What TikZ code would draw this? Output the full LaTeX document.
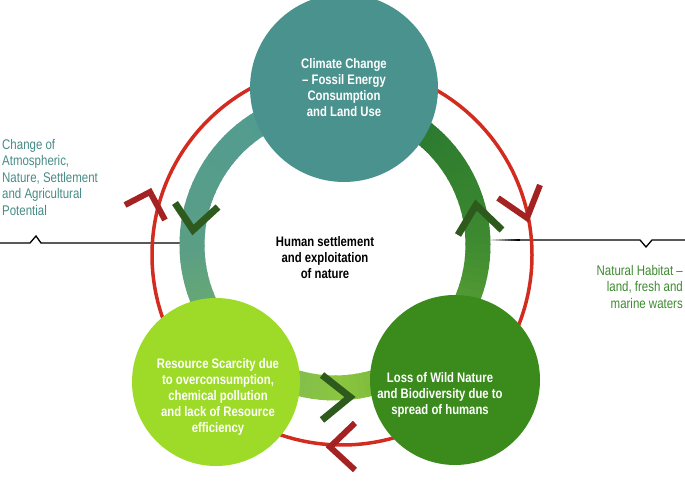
\documentclass[tikz,border=0pt]{standalone}
\usepackage{fontspec}
\setmainfont{Liberation Sans}[FakeStretch=0.82]
\begin{document}
\begin{tikzpicture}[x=1pt,y=1pt,
  bub/.style={circle,inner sep=0pt,text=white,font=\bfseries\fontsize{13.8}{16}\selectfont,align=center},
  redchev/.style={draw=chevr,line width=6pt,line cap=butt,line join=miter},
  grnchev/.style={draw=chevg,line width=7pt,line cap=butt,line join=miter},
  side/.style={font=\fontsize{14}{16.5}\selectfont}]
\useasboundingbox (0,0) rectangle (685,481);
\definecolor{teal1}{HTML}{4E9A94}
\definecolor{tealg}{HTML}{5A9E86}
\definecolor{grn1}{HTML}{1F6E2E}
\definecolor{grn2}{HTML}{3D8A30}
\definecolor{lossg}{HTML}{3A8A1C}
\definecolor{lime1}{HTML}{8CC63F}
\definecolor{redc}{HTML}{D22C20}
\definecolor{chevr}{HTML}{A52222}
\definecolor{chevg}{HTML}{2E5A1E}
% lines
\draw[line width=1.3pt] (0,238) -- (30,238) -- (36,245) -- (41,238) -- (180,238);
\foreach \i in {0,...,9}{\pgfmathsetmacro{\p}{100-10*\i}
  \draw[line width=1.3pt,black!\p] (180+2*\i,238) -- (182+2*\i,238);}
\foreach \i in {0,...,9}{\pgfmathsetmacro{\p}{10*\i+10}
  \draw[line width=1.3pt,black!\p] (490+3*\i,241) -- (493+3*\i,241);}
\draw[line width=1.3pt] (520,241) -- (640,241) -- (646,234) -- (652,241) -- (685,241);
% red circle
\draw[redc,line width=3.5pt] (342,226) circle[radius=190];
% inner ring
\foreach \a in {0,3,...,357}{
  \pgfmathsetmacro{\t}{\a}
  \ifdim\t pt<90pt \pgfmathsetmacro{\p}{100*\t/90}\def\ca{grn1}\def\cb{grn2}
  \else\ifdim\t pt<180pt \pgfmathsetmacro{\p}{100-100*(\t-90)/90}\def\ca{teal1}\def\cb{tealg}
  \else\ifdim\t pt<270pt \pgfmathsetmacro{\p}{100-100*(\t-180)/90}\def\ca{tealg}\def\cb{lime1}
  \else \pgfmathsetmacro{\p}{100-100*(\t-270)/90}\def\ca{lime1}\def\cb{grn2}\fi\fi\fi
  \draw[line width=25pt,\ca!\p!\cb] ([shift={(\a:143)}]335,236) arc[start angle=\a,end angle=\a+3.6,radius=143];}
% circles
\node[bub,fill=teal1!95!black,minimum size=188pt] (cc) at (344,393) {Climate Change\\– Fossil Energy\\Consumption\\and Land Use};
\node[bub,fill=lime1!70!yellow!90!green,minimum size=168pt] (rs) at (216,99) {};
\node[bub,fill=lossg,minimum size=170pt] (lw) at (455,101) {};
\node[bub] (rst) at (218,84) {Resource Scarcity due\\to overconsumption,\\chemical pollution\\and lack of Resource\\efficiency};
\node[bub] (lwt) at (440,86) {Loss of Wild Nature\\and Biodiversity due to\\spread of humans};
\node[font=\bfseries\fontsize{13.8}{16}\selectfont,align=center] (hs) at (325,223) {Human settlement\\and exploitation\\of nature};
% chevrons
\draw[redchev] (125,276) -- (150,289) -- (165,261);
\draw[redchev] (498,283) -- (527,263) -- (540,296);
\draw[redchev] (355,58) -- (330,34) -- (355,11);
\draw[grnchev] (175,278) -- (193,251) -- (218,274);
\draw[grnchev] (458,246) -- (476,276) -- (502,251);
\draw[grnchev] (322,106) -- (350,84) -- (322,61);
% side texts
\node[side,text=teal1!90!black,align=left,anchor=north west,inner sep=1pt] (lt) at (1,343) {Change of\\Atmospheric,\\Nature, Settlement\\and Agricultural\\Potential};
\node[side,text=grn2,align=right,anchor=north east,inner sep=1pt] (rt) at (684,217) {Natural Habitat –\\land, fresh and\\marine waters};
\end{tikzpicture}
\end{document}
